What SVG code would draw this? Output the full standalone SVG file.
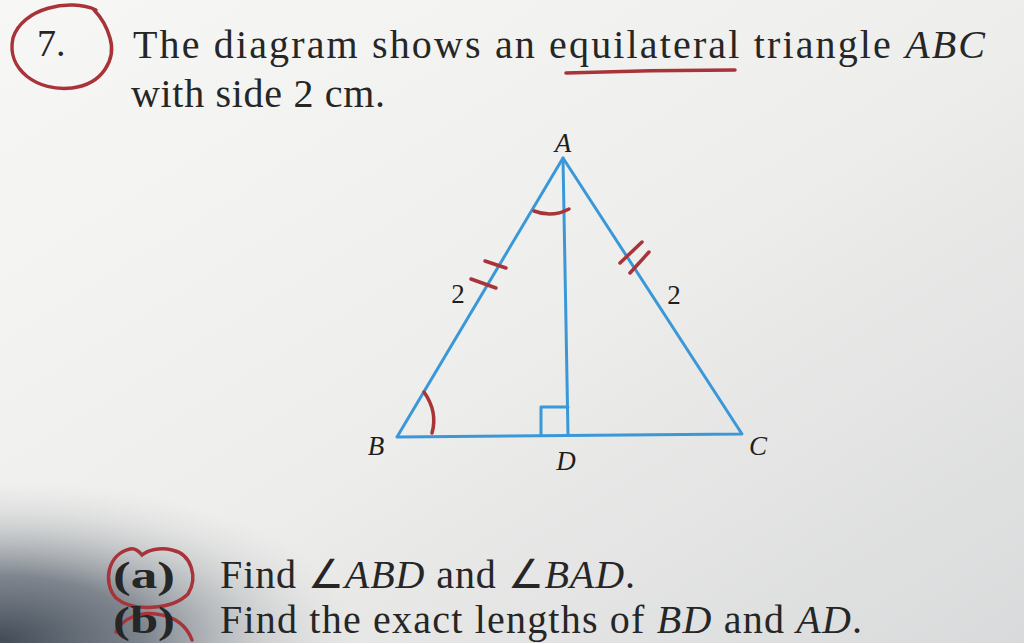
<svg xmlns="http://www.w3.org/2000/svg" width="1024" height="643" viewBox="0 0 1024 643">
<defs>
<linearGradient id="bg" x1="0" y1="0" x2="1" y2="1">
<stop offset="0" stop-color="#f7f7f5"/>
<stop offset="0.5" stop-color="#eeeeec"/>
<stop offset="1" stop-color="#d9dadb"/>
</linearGradient>
<radialGradient id="shadow" cx="0" cy="640" r="1" gradientUnits="userSpaceOnUse" gradientTransform="translate(0 640) scale(360 160) translate(0 -640)">
<stop offset="0" stop-color="#3a4350" stop-opacity="0.95"/>
<stop offset="0.4" stop-color="#59626e" stop-opacity="0.75"/>
<stop offset="0.75" stop-color="#9aa0a6" stop-opacity="0.3"/>
<stop offset="1" stop-color="#c8cacc" stop-opacity="0"/>
</radialGradient>
<style>
.t{font-family:"Liberation Serif","Times New Roman",serif;fill:#262626}
.lbl{font-family:"Liberation Serif","Times New Roman",serif;fill:#1e1e1e;font-size:27px;font-style:italic}
.num{font-family:"Liberation Serif","Times New Roman",serif;fill:#1e1e1e;font-size:27px}
.blue{stroke:#3a98d8;stroke-width:3;fill:none;stroke-linecap:round;stroke-linejoin:round}
.red{stroke:#a8343a;stroke-width:3.5;fill:none;stroke-linecap:round}
</style>
</defs>
<rect width="1024" height="643" fill="url(#bg)"/>
<rect width="1024" height="643" fill="url(#shadow)"/>

<g id="question-number">
<path class="red" d="M96 10 C 70 -2, 22 8, 13 38 C 6 70, 38 92, 72 88 C 104 84, 116 58, 110 38 C 106 24, 100 16, 94 10" stroke-width="2.5"/>
<text class="t" x="37" y="56" font-size="38">7.</text>
</g>

<g id="question-text">
<text class="t" x="133" y="58" font-size="40" textLength="852" lengthAdjust="spacing">The diagram shows an equilateral triangle <tspan font-style="italic">ABC</tspan></text>
<text class="t" x="131" y="107" font-size="40" textLength="254" lengthAdjust="spacing">with side 2 cm.</text>
<path class="red" d="M566 73 Q 650 70 735 70" stroke-width="3"/>
</g>

<g id="triangle">
<polygon class="blue" points="563,158 397,437 742,434"/>
<line class="blue" x1="563" y1="158" x2="568" y2="435"/>
<polyline class="blue" points="541,435 541,407 568,407" stroke-width="2.5"/>
</g>

<g id="marks">
<path class="red" d="M534 211 Q 552 218 569 209"/>
<path class="red" d="M424 392 Q 438 412 432 433"/>
<line class="red" x1="485" y1="261" x2="506" y2="268"/>
<line class="red" x1="471" y1="279" x2="496" y2="288"/>
<line class="red" x1="620" y1="263" x2="642" y2="242"/>
<line class="red" x1="630" y1="273" x2="649" y2="252"/>
</g>

<g id="labels">
<text class="lbl" x="563" y="152" text-anchor="middle">A</text>
<text class="lbl" x="376" y="455" text-anchor="middle">B</text>
<text class="lbl" x="758" y="455" text-anchor="middle">C</text>
<text class="lbl" x="566" y="470" text-anchor="middle">D</text>
<text class="num" x="458" y="303" text-anchor="middle">2</text>
<text class="num" x="674" y="304" text-anchor="middle">2</text>
</g>

<g id="part-a">
<path class="red" d="M130 549 C 108 554, 102 582, 116 598 C 132 612, 172 610, 188 594 C 198 578, 192 554, 172 550 C 160 547, 148 550, 142 555 C 138 550, 134 548, 130 549" stroke-width="2.5"/>
<text class="t" x="113" y="588" font-size="37" font-weight="bold" textLength="62" lengthAdjust="spacingAndGlyphs">(a)</text>
<text class="t" x="220" y="588" font-size="40" textLength="415" lengthAdjust="spacing">Find ∠<tspan font-style="italic">ABD</tspan> and ∠<tspan font-style="italic">BAD</tspan>.</text>
</g>

<g id="part-b">
<path class="red" d="M116 632 C 122 618, 140 612, 156 614 C 172 616, 186 624, 192 640" stroke-width="3"/>
<text class="t" x="113" y="633" font-size="37" font-weight="bold" textLength="62" lengthAdjust="spacingAndGlyphs">(b)</text>
<text class="t" x="220" y="633" font-size="40" textLength="642" lengthAdjust="spacing">Find the exact lengths of <tspan font-style="italic">BD</tspan> and <tspan font-style="italic">AD</tspan>.</text>
</g>
</svg>
